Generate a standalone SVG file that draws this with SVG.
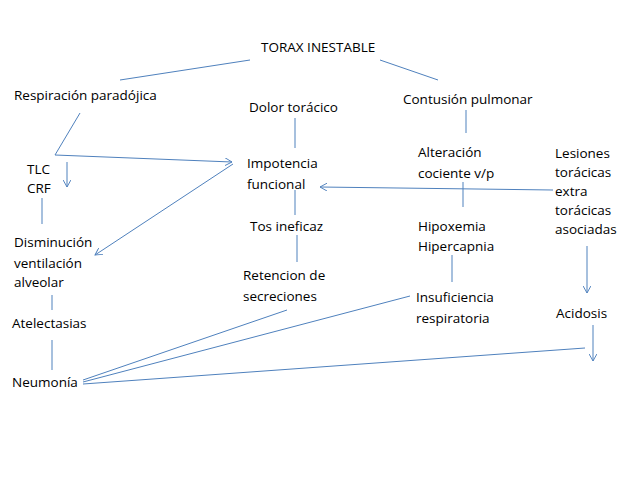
<svg xmlns="http://www.w3.org/2000/svg" width="640" height="480" viewBox="0 0 640 480">
<defs>
<marker id="a" viewBox="0 0 10 10" refX="9" refY="5" markerWidth="8" markerHeight="8" orient="auto" markerUnits="userSpaceOnUse"><path d="M0,0 L9,5 L0,10" fill="none" stroke="#4f81bd" stroke-width="1.2"/></marker>
<style>
text{font-family:"Open Sans","Liberation Sans",sans-serif;font-size:13.5px;fill:#000}
line{stroke:#4f81bd;stroke-width:1}
.r{marker-end:url(#a)}
</style>
</defs>
<rect width="640" height="480" fill="#fff"/>
<g id="connectors">
<line x1="250" y1="60" x2="120" y2="80"/>
<line x1="380" y1="60" x2="438" y2="80"/>
<line x1="80" y1="113" x2="55" y2="155"/>
<line class="r" x1="55" y1="155" x2="232" y2="162"/>
<line class="r" x1="67" y1="162" x2="67" y2="187"/>
<line x1="42" y1="198" x2="42" y2="224"/>
<line class="r" x1="233" y1="164" x2="95" y2="255"/>
<line x1="52" y1="295" x2="52" y2="310"/>
<line x1="52" y1="340" x2="52" y2="370"/>
<line x1="295" y1="118" x2="295" y2="148"/>
<line x1="295" y1="190" x2="295" y2="215"/>
<line x1="297" y1="235" x2="297" y2="262"/>
<line x1="466" y1="110" x2="466" y2="133"/>
<line x1="463" y1="182" x2="463" y2="207"/>
<line x1="452" y1="255" x2="452" y2="282"/>
<line class="r" x1="553" y1="190" x2="320" y2="187"/>
<line class="r" x1="587" y1="246" x2="587" y2="293"/>
<line class="r" x1="593" y1="325" x2="593" y2="361"/>
<line x1="83" y1="380" x2="287" y2="310"/>
<line x1="83" y1="382" x2="410" y2="296"/>
<line x1="83" y1="384" x2="585" y2="348"/>
</g>
<g id="torax"><text x="261" y="52">TORAX INESTABLE</text></g>
<g id="resp"><text x="14" y="100">Respiración paradójica</text></g>
<g id="dolor"><text x="249" y="112">Dolor torácico</text></g>
<g id="contusion"><text x="403" y="104">Contusión pulmonar</text></g>
<g id="tlc"><text x="27" y="174">TLC</text><text x="27" y="193">CRF</text></g>
<g id="dismin"><text x="14" y="247">Disminución</text><text x="14" y="268">ventilación</text><text x="14" y="287">alveolar</text></g>
<g id="atel"><text x="12" y="328">Atelectasias</text></g>
<g id="neum"><text x="12" y="387">Neumonía</text></g>
<g id="impot"><text x="247" y="168">Impotencia</text><text x="247" y="189">funcional</text></g>
<g id="tos"><text x="250" y="231">Tos ineficaz</text></g>
<g id="reten"><text x="243" y="280">Retencion de</text><text x="243" y="301">secreciones</text></g>
<g id="alter"><text x="418" y="157">Alteración</text><text x="418" y="178">cociente v/p</text></g>
<g id="hipox"><text x="418" y="231">Hipoxemia</text><text x="418" y="251">Hipercapnia</text></g>
<g id="insuf"><text x="416" y="302">Insuficiencia</text><text x="416" y="323">respiratoria</text></g>
<g id="lesiones"><text x="555" y="158">Lesiones</text><text x="555" y="177">torácicas</text><text x="555" y="196">extra</text><text x="555" y="215">torácicas</text><text x="555" y="234">asociadas</text></g>
<g id="acid"><text x="556" y="318">Acidosis</text></g>
</svg>
